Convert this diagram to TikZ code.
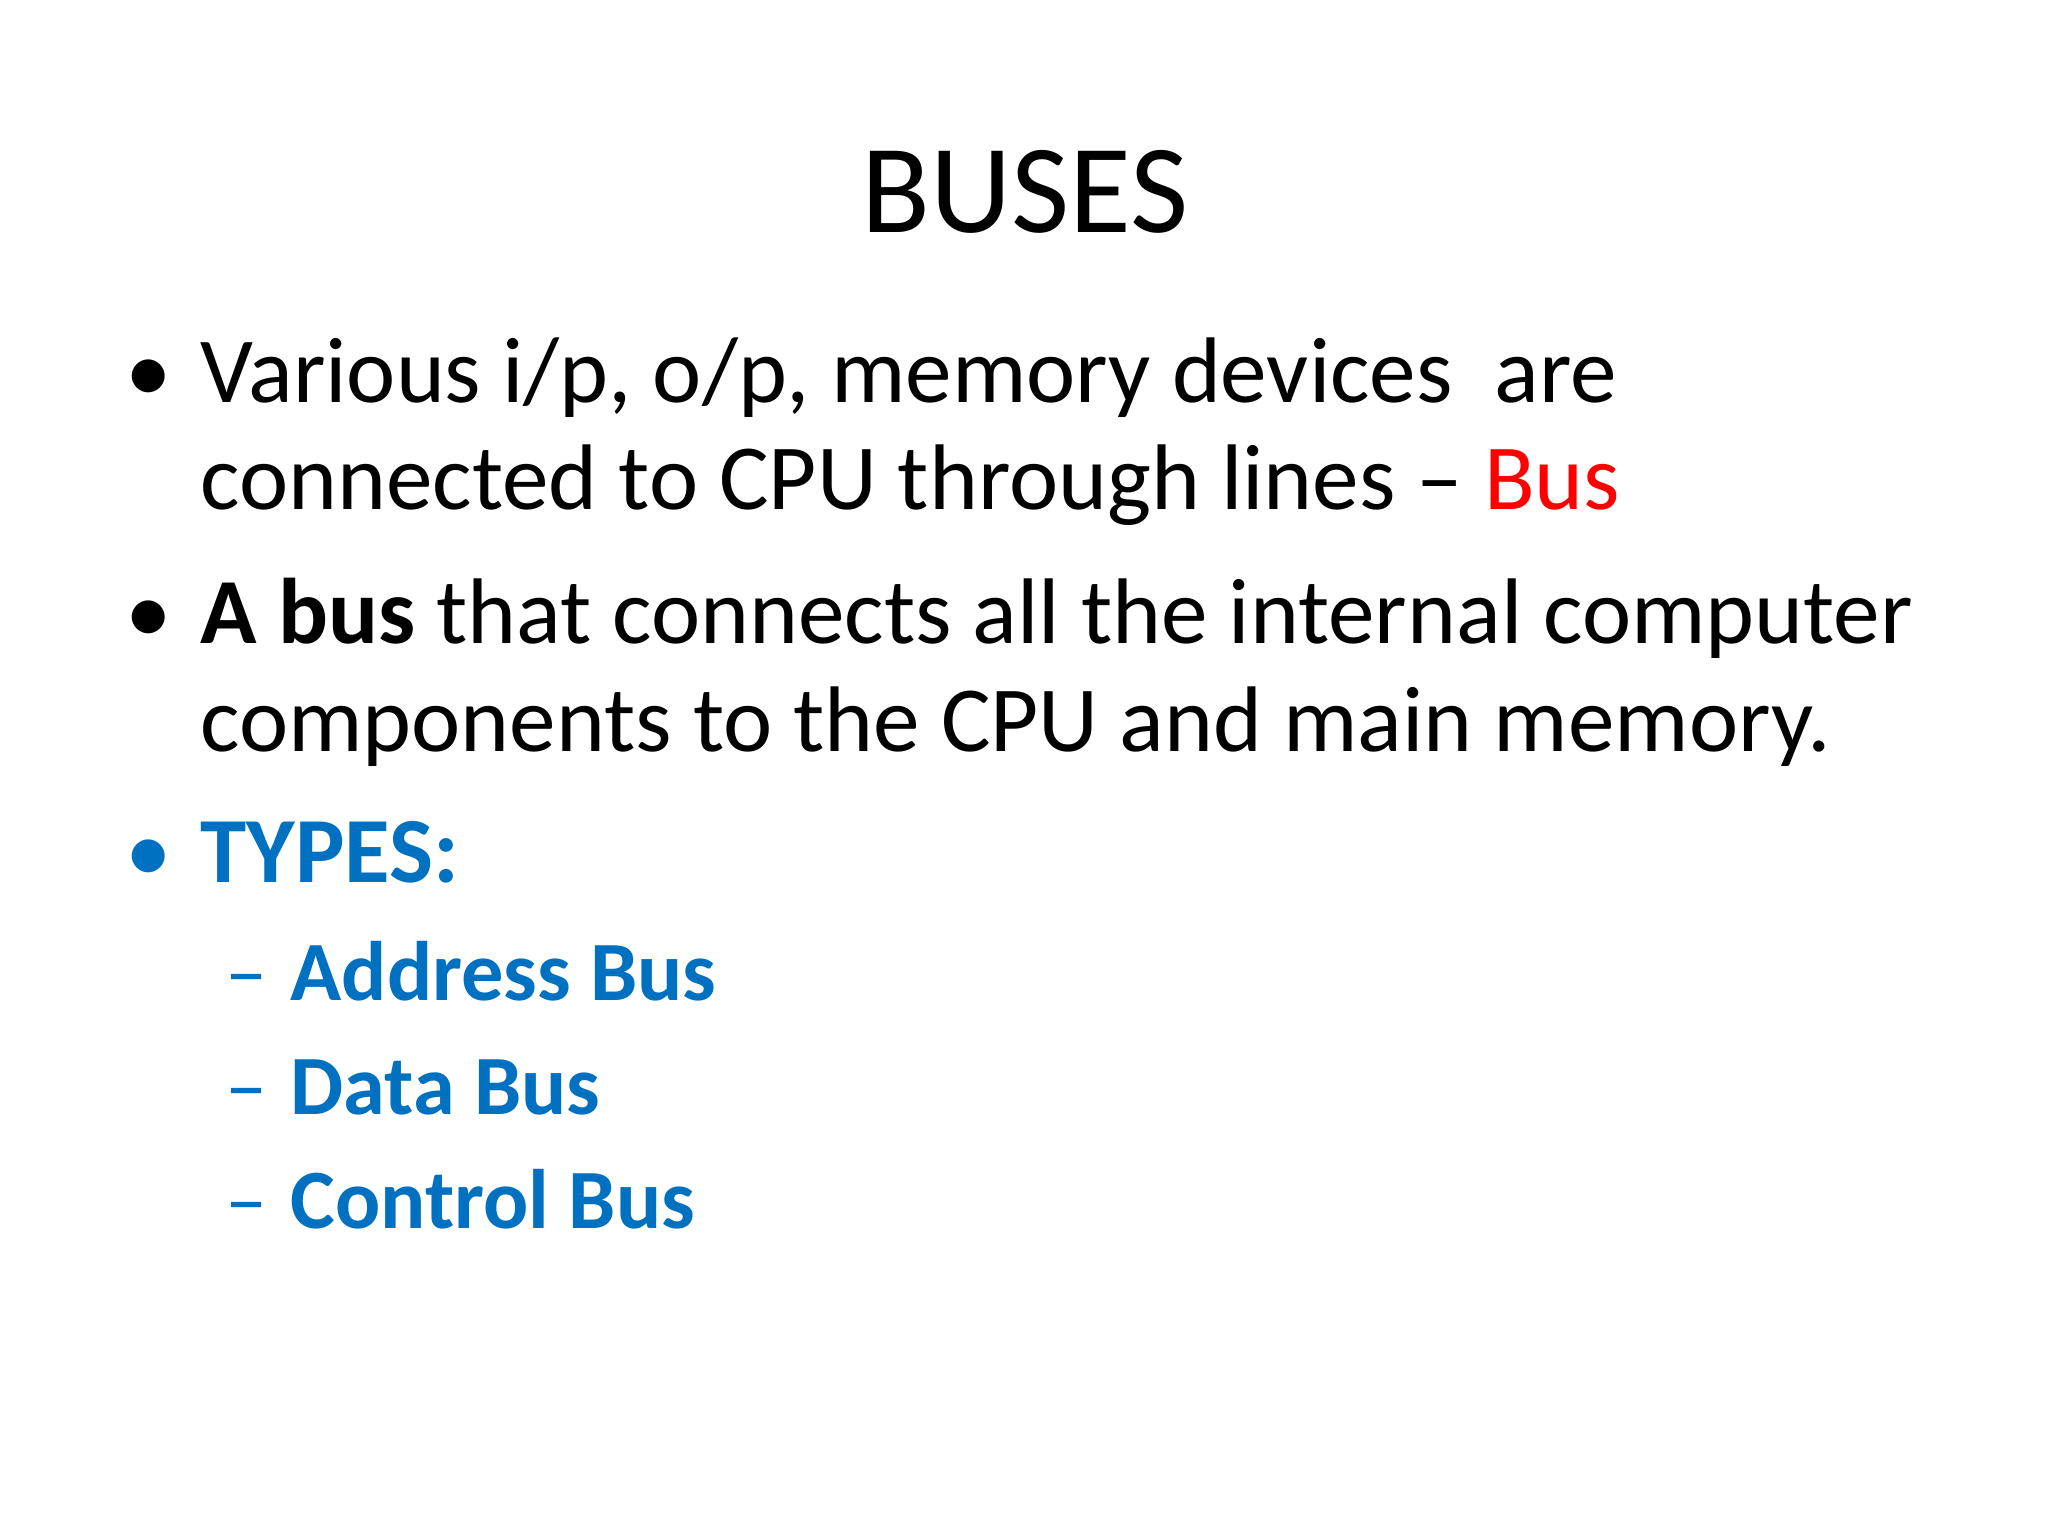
\documentclass[tikz,border=0pt]{standalone}
\usepackage{fontspec}
\setmainfont{Carlito}
\definecolor{tblue}{HTML}{0070C0}
\definecolor{tred}{HTML}{FF0000}
\begin{document}
\begin{tikzpicture}[x=0.01cm,y=-0.01cm,
  txt/.style={anchor=base west,inner sep=0pt,font=\fontsize{26.5}{30}\selectfont},
  sub/.style={anchor=base west,inner sep=0pt,font=\fontsize{24}{28}\selectfont\bfseries,text=tblue},
  bul/.style={anchor=base west,inner sep=0pt,font=\fontsize{26.5}{30}\selectfont}]
\fill[white] (0,0) rectangle (2048,1536);
\node[anchor=base,inner sep=0pt,font=\fontsize{36}{40}\selectfont] (title) at (1025,232) {BUSES};
\node[bul] (b1) at (125,402) {•};
\node[txt] (l1) at (200,402) {Various i/p, o/p, memory devices\ \ are};
\node[txt] (l2) at (200,509) {connected to CPU through lines – \textcolor{tred}{Bus}};
\node[bul] (b2) at (125,643) {•};
\node[txt] (l3) at (200,643) {\textbf{A bus} that connects all the internal computer};
\node[txt] (l4) at (200,751) {components to the CPU and main memory.};
\node[bul,text=tblue] (b3) at (125,882) {•};
\node[txt,text=tblue,font=\fontsize{26.5}{30}\selectfont\bfseries] (l5) at (200,882) {TYPES:};
\node[sub,font=\fontsize{24}{28}\selectfont] (d1) at (225,1000) {–};
\node[sub] (s1) at (290,1000) {Address Bus};
\node[sub,font=\fontsize{24}{28}\selectfont] (d2) at (225,1114) {–};
\node[sub] (s2) at (290,1114) {Data Bus};
\node[sub,font=\fontsize{24}{28}\selectfont] (d3) at (225,1228) {–};
\node[sub] (s3) at (290,1228) {Control Bus};
\end{tikzpicture}
\end{document}
